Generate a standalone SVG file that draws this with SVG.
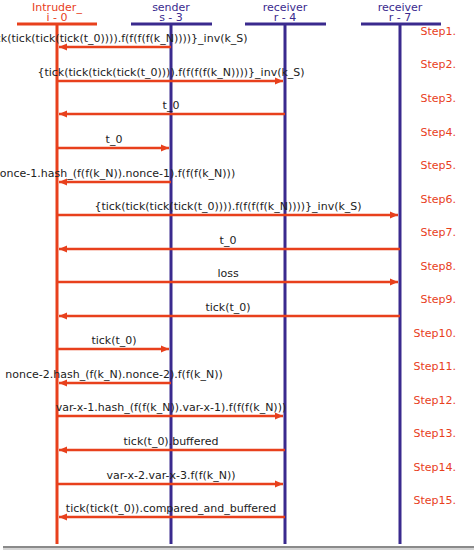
<svg xmlns="http://www.w3.org/2000/svg" width="474" height="550" viewBox="0 0 474 550">
<style>
.bg{fill:#ffffff}
.nm{font-family:"DejaVu Sans",sans-serif;font-size:11px;text-anchor:middle}
.red{fill:#e8401c}
.blue{fill:#3a2a8e}
.lr{stroke:#e8401c;stroke-width:3;fill:none}
.lb{stroke:#3a2a8e;stroke-width:3;fill:none}
.msg{stroke:#e8401c;stroke-width:2.5;fill:none}
.lbl{font-family:"DejaVu Sans",sans-serif;font-size:11px;fill:#222;text-anchor:middle}
.step{font-family:"DejaVu Sans",sans-serif;font-size:11px;fill:#e8401c;text-anchor:end}
</style>
<defs>
<marker id="ah" markerWidth="10" markerHeight="8" refX="8" refY="4" orient="auto" markerUnits="userSpaceOnUse">
<path d="M0,0.6 L8,4 L0,7.4 Z" fill="#e8401c"/>
</marker>
</defs>
<rect class="bg" x="0" y="0" width="474" height="550"/>
<g id="intruder">
<text class="nm red" x="57" y="11">Intruder_</text>
<text class="nm red" x="57" y="21">i - 0</text>
<line class="lr" x1="17" y1="24" x2="97" y2="24"/>
<line class="lr" x1="57" y1="24" x2="57" y2="544"/>
</g>
<g id="sender">
<text class="nm blue" x="171" y="11">sender</text>
<text class="nm blue" x="171" y="21">s - 3</text>
<line class="lb" x1="131" y1="24" x2="212" y2="24"/>
<line class="lb" x1="171" y1="24" x2="171" y2="544"/>
</g>
<g id="receiver4">
<text class="nm blue" x="285" y="11">receiver</text>
<text class="nm blue" x="285" y="21">r - 4</text>
<line class="lb" x1="245" y1="24" x2="326" y2="24"/>
<line class="lb" x1="285" y1="24" x2="285" y2="544"/>
</g>
<g id="receiver7">
<text class="nm blue" x="400" y="11">receiver</text>
<text class="nm blue" x="400" y="21">r - 7</text>
<line class="lb" x1="361" y1="24" x2="441" y2="24"/>
<line class="lb" x1="400" y1="24" x2="400" y2="544"/>
</g>
<g id="steps">
<text class="step" x="456" y="35">Step1.</text>
<text class="step" x="456" y="68">Step2.</text>
<text class="step" x="456" y="102">Step3.</text>
<text class="step" x="456" y="136">Step4.</text>
<text class="step" x="456" y="169">Step5.</text>
<text class="step" x="456" y="203">Step6.</text>
<text class="step" x="456" y="236">Step7.</text>
<text class="step" x="456" y="270">Step8.</text>
<text class="step" x="456" y="303">Step9.</text>
<text class="step" x="456" y="337">Step10.</text>
<text class="step" x="456" y="370">Step11.</text>
<text class="step" x="456" y="404">Step12.</text>
<text class="step" x="456" y="437">Step13.</text>
<text class="step" x="456" y="471">Step14.</text>
<text class="step" x="456" y="504">Step15.</text>
</g>
<g id="connectors">
<line class="msg" x1="171" y1="47" x2="59" y2="47" marker-end="url(#ah)"/>
<line class="msg" x1="57" y1="81" x2="283" y2="81" marker-end="url(#ah)"/>
<line class="msg" x1="285" y1="114" x2="59" y2="114" marker-end="url(#ah)"/>
<line class="msg" x1="57" y1="148" x2="169" y2="148" marker-end="url(#ah)"/>
<line class="msg" x1="171" y1="182" x2="59" y2="182" marker-end="url(#ah)"/>
<line class="msg" x1="57" y1="215" x2="398" y2="215" marker-end="url(#ah)"/>
<line class="msg" x1="400" y1="249" x2="59" y2="249" marker-end="url(#ah)"/>
<line class="msg" x1="57" y1="282" x2="398" y2="282" marker-end="url(#ah)"/>
<line class="msg" x1="400" y1="316" x2="59" y2="316" marker-end="url(#ah)"/>
<line class="msg" x1="57" y1="349" x2="169" y2="349" marker-end="url(#ah)"/>
<line class="msg" x1="171" y1="383" x2="59" y2="383" marker-end="url(#ah)"/>
<line class="msg" x1="57" y1="416" x2="283" y2="416" marker-end="url(#ah)"/>
<line class="msg" x1="285" y1="450" x2="59" y2="450" marker-end="url(#ah)"/>
<line class="msg" x1="57" y1="484" x2="283" y2="484" marker-end="url(#ah)"/>
<line class="msg" x1="285" y1="517" x2="59" y2="517" marker-end="url(#ah)"/>
</g>
<g id="labels">
<text class="lbl" x="114" y="42">{tick(tick(tick(tick(t_0)))).f(f(f(f(k_N))))}_inv(k_S)</text>
<text class="lbl" x="171" y="76">{tick(tick(tick(tick(t_0)))).f(f(f(f(k_N))))}_inv(k_S)</text>
<text class="lbl" x="171" y="109">t_0</text>
<text class="lbl" x="114" y="143">t_0</text>
<text class="lbl" x="114" y="177">nonce-1.hash_(f(f(k_N)).nonce-1).f(f(f(k_N)))</text>
<text class="lbl" x="228" y="210">{tick(tick(tick(tick(t_0)))).f(f(f(f(k_N))))}_inv(k_S)</text>
<text class="lbl" x="228" y="244">t_0</text>
<text class="lbl" x="228" y="277">loss</text>
<text class="lbl" x="228" y="311">tick(t_0)</text>
<text class="lbl" x="114" y="344">tick(t_0)</text>
<text class="lbl" x="114" y="378">nonce-2.hash_(f(k_N).nonce-2).f(f(k_N))</text>
<text class="lbl" x="171" y="411">var-x-1.hash_(f(f(k_N)).var-x-1).f(f(f(k_N)))</text>
<text class="lbl" x="171" y="445">tick(t_0).buffered</text>
<text class="lbl" x="171" y="479">var-x-2.var-x-3.f(f(k_N))</text>
<text class="lbl" x="171" y="512">tick(tick(t_0)).compared_and_buffered</text>
</g>
<line x1="3" y1="547" x2="474" y2="547" stroke="#8a8a8a" stroke-width="2"/>
<line x1="3" y1="549" x2="474" y2="549" stroke="#d5d5d5" stroke-width="2"/>
</svg>
